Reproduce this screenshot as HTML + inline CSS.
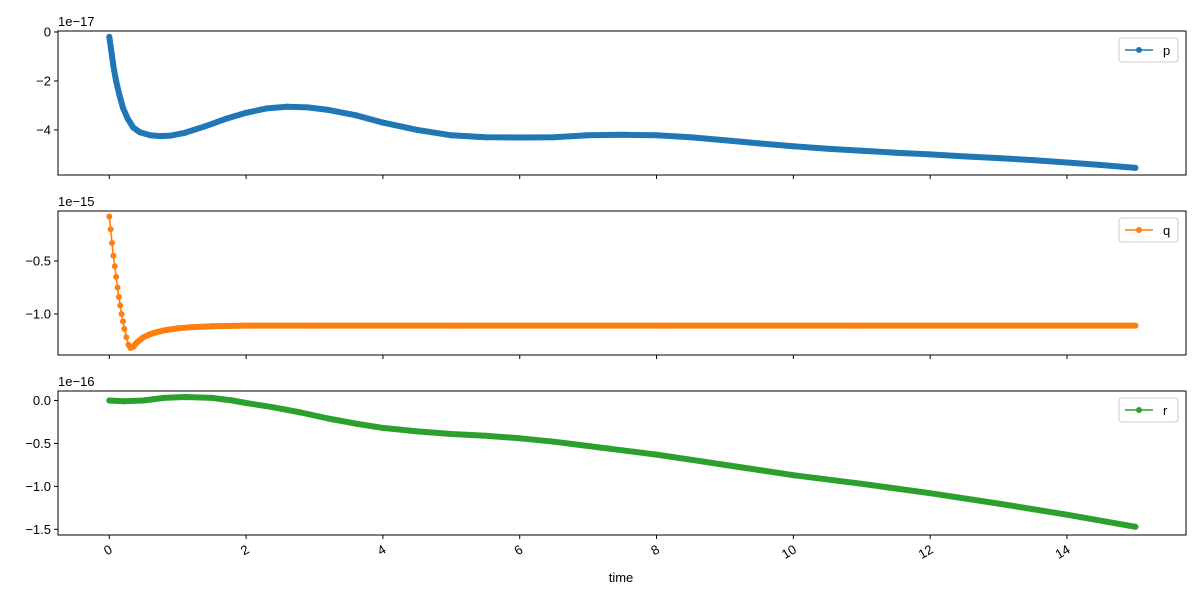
<!DOCTYPE html>
<html><head><meta charset="utf-8"><style>
body{margin:0;background:#fff}
svg text{font-family:"Liberation Sans","DejaVu Sans",sans-serif;font-size:13px;fill:#000}
</style></head><body>
<svg id="chart" width="1200" height="600" xmlns="http://www.w3.org/2000/svg"></svg>
<script>
const xTicks=[0,2,4,6,8,10,12,14];
const pTime=[0,0.03,0.06,0.1,0.15,0.2,0.27,0.35,0.45,0.6,0.75,0.9,1.1,1.4,1.7,2.0,2.3,2.6,2.9,3.2,3.6,4.0,4.5,5.0,5.5,6.0,6.5,7.0,7.5,8.0,8.5,9.0,9.5,10,10.5,11,11.5,12,12.5,13,13.5,14,14.5,15];
const pVals=[-0.2,-0.8,-1.4,-2.0,-2.6,-3.1,-3.55,-3.9,-4.1,-4.22,-4.25,-4.23,-4.12,-3.85,-3.55,-3.3,-3.12,-3.05,-3.08,-3.18,-3.4,-3.7,-4.0,-4.22,-4.3,-4.31,-4.3,-4.22,-4.2,-4.22,-4.3,-4.42,-4.55,-4.67,-4.77,-4.85,-4.93,-5.0,-5.08,-5.15,-5.23,-5.33,-5.43,-5.55];
const qTime=[0,0.02,0.04,0.06,0.08,0.1,0.12,0.14,0.16,0.18,0.2,0.22,0.25,0.28,0.31,0.35,0.4,0.5,0.6,0.7,0.8,1.0,1.2,1.5,2,3,5,8,11,15];
const qVals=[-0.08,-0.2,-0.33,-0.45,-0.55,-0.65,-0.75,-0.84,-0.92,-1.0,-1.07,-1.14,-1.22,-1.29,-1.32,-1.31,-1.27,-1.22,-1.19,-1.17,-1.155,-1.135,-1.125,-1.115,-1.11,-1.11,-1.11,-1.11,-1.11,-1.11];
const rTime=[0,0.2,0.5,0.8,1.1,1.5,1.8,2.0,2.4,2.8,3.2,3.6,4.0,4.5,5.0,5.5,6.0,6.5,7.0,7.5,8.0,8.5,9.0,9.5,10,11,12,13,14,15];
const rVals=[0,-0.01,0,0.03,0.04,0.03,0,-0.03,-0.08,-0.14,-0.21,-0.27,-0.32,-0.36,-0.39,-0.41,-0.44,-0.48,-0.53,-0.58,-0.63,-0.69,-0.75,-0.81,-0.87,-0.97,-1.08,-1.2,-1.33,-1.47];
const panels=[
 {name:'p',top:31,ymin:-5.84,ymax:0.04,ticks:[0,-2,-4],fmt:v=>v===0?'0':'\u2212'+Math.abs(v),exp:'1e\u221217',t:pTime,v:pVals,c:'#1f77b4',thickFrom:0},
 {name:'q',top:211,ymin:-1.387,ymax:-0.028,ticks:[-0.5,-1.0],fmt:v=>'\u2212'+Math.abs(v).toFixed(1),exp:'1e\u221215',t:qTime,v:qVals,c:'#ff7f0e',thickFrom:0.3},
 {name:'r',top:391,ymin:-1.566,ymax:0.11,ticks:[0,-0.5,-1.0,-1.5],fmt:v=>v===0?'0.0':'\u2212'+Math.abs(v).toFixed(1),exp:'1e\u221216',t:rTime,v:rVals,c:'#2ca02c',thickFrom:0}
];
const L=58,R=1186,H=144,xmin=-0.75,xmax=15.74;
const svg=document.getElementById('chart');const NS='http://www.w3.org/2000/svg';
function el(tag,a,p){const e=document.createElementNS(NS,tag);for(const k in a)e.setAttribute(k,a[k]);(p||svg).appendChild(e);return e;}
const sx=t=>L+(t-xmin)/(xmax-xmin)*(R-L);
panels.forEach((P,pi)=>{
 const g=el('g',{});
 
 
 const sy=v=>P.top+(P.ymax-v)/(P.ymax-P.ymin)*H;
 const d=P.t.map((t,i)=>(i?'L':'M')+sx(t).toFixed(1)+' '+sy(P.v[i]).toFixed(1)).join('');
 const line=el('path',{d:d,fill:'none',stroke:P.c,'stroke-width':1.6,'stroke-linejoin':'round'},g);
 
 
 const idx=P.t.map((t,i)=>i).filter(i=>P.t[i]>=P.thickFrom);
 const d2=idx.map((i,k)=>(k?'L':'M')+sx(P.t[i]).toFixed(1)+' '+sy(P.v[i]).toFixed(1)).join('');
 const thick=el('path',{d:d2,fill:'none',stroke:P.c,'stroke-width':6,'stroke-linejoin':'round','stroke-linecap':'round'},g);
 
 
 P.t.forEach((t,i)=>{const m=el('circle',{cx:sx(t),cy:sy(P.v[i]),r:3,fill:P.c},g);
  
  });
 const fr=el('rect',{x:L,y:P.top,width:R-L,height:H,fill:'none',stroke:'#000','stroke-width':1},g);
 
 
 P.ticks.forEach(v=>{const y=sy(v);el('line',{x1:L-4,x2:L,y1:y,y2:y,stroke:'#000'},g);
  const tx=el('text',{x:L-7,y:y+4.5,'text-anchor':'end'},g);tx.textContent=P.fmt(v);
  
  });
 const ex=el('text',{x:L,y:P.top-5},g);ex.textContent=P.exp;
 
 
 xTicks.forEach(t=>{const x=sx(t);el('line',{x1:x,x2:x,y1:P.top+H,y2:P.top+H+4,stroke:'#000'},g);
  if(pi===2){const tx=el('text',{x:x+4,y:P.top+H+17,'text-anchor':'end',transform:`rotate(-30 ${x+4} ${P.top+H+17})`},g);tx.textContent=t;
   
   }});
 const lg=el('g',{},g);
 
 
 el('rect',{x:1119,y:P.top+7,width:59,height:24,rx:3,fill:'#fff',stroke:'#ccc'},lg);
 el('line',{x1:1125,x2:1153,y1:P.top+19,y2:P.top+19,stroke:P.c,'stroke-width':1.5},lg);
 el('circle',{cx:1139,cy:P.top+19,r:3,fill:P.c},lg);
 const lt=el('text',{x:1163,y:P.top+24},lg);lt.textContent=P.name;
});
const xl=el('text',{x:621,y:582,'text-anchor':'middle'});xl.textContent='time';


</script>
</body></html>
